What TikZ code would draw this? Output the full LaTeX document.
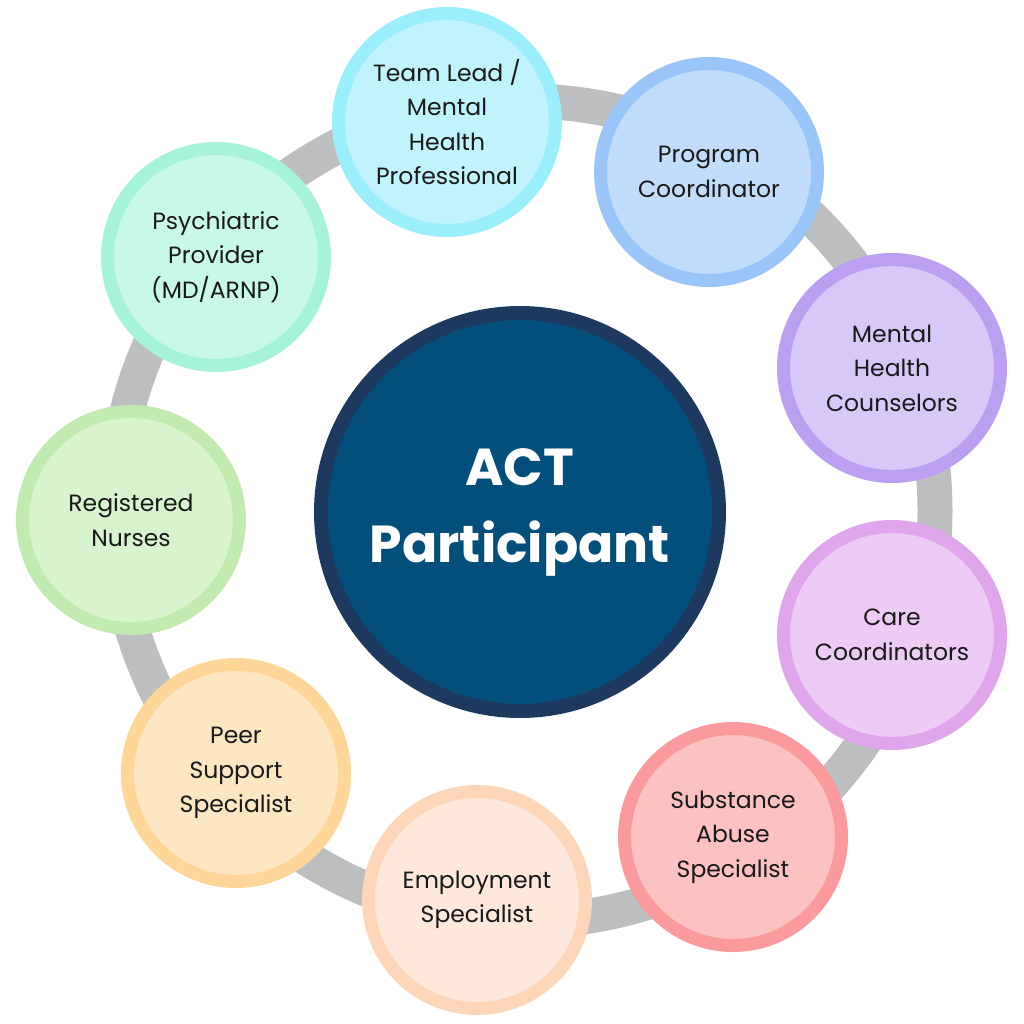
\documentclass[tikz,border=0pt]{standalone}
\usepackage{fontspec}
\setmainfont{Poppins}
\definecolor{ringgray}{HTML}{BDBEC0}
\definecolor{ctrfill}{HTML}{024F7B}
\definecolor{ctrline}{HTML}{1D3960}
\definecolor{tlB}{HTML}{9BEEFB}\definecolor{tlF}{HTML}{C0F3FC}
\definecolor{pcB}{HTML}{99C5F9}\definecolor{pcF}{HTML}{C2DCFB}
\definecolor{mhB}{HTML}{BBA0F2}\definecolor{mhF}{HTML}{D8C8F8}
\definecolor{ccB}{HTML}{E0A6EC}\definecolor{ccF}{HTML}{ECCBF4}
\definecolor{saB}{HTML}{FB9A9C}\definecolor{saF}{HTML}{FCC1C1}
\definecolor{emB}{HTML}{FDD5B9}\definecolor{emF}{HTML}{FDE8DB}
\definecolor{psB}{HTML}{FDD698}\definecolor{psF}{HTML}{FDE7C2}
\definecolor{rnB}{HTML}{C1EBB0}\definecolor{rnF}{HTML}{D8F4CE}
\definecolor{ppB}{HTML}{A5F3D9}\definecolor{ppF}{HTML}{C7F8E8}
\tikzset{
  sat/.style 2 args={circle, draw=#1, fill=#2, line width=13pt, minimum size=217pt,
    inner sep=0pt, align=center, text=black!90,
    font=\fontsize{23.5}{34.5}\selectfont},
  hub/.style={circle, draw=ctrline, fill=ctrfill, line width=14pt, minimum size=398pt,
    inner sep=0pt, align=center, text=white,
    font=\fontsize{52}{77}\selectfont\bfseries},
  ringline/.style={draw=ringgray, line width=35pt}
}
\begin{document}
\begin{tikzpicture}[x=1pt,y=-1pt]
\useasboundingbox (0,0) rectangle (1024,1024);
\fill[white] (0,0) rectangle (1024,1024);
\coordinate (ringc) at (525,511);
\draw[ringline] (ringc) circle (410);
\node[hub] (act) at (520,512) {ACT\\Participant};
\node[sat={tlB}{tlF}] (tl) at (447,122) {Team Lead /\\Mental\\Health\\Professional};
\node[sat={pcB}{pcF}] (pc) at (709,172) {Program\\Coordinator};
\node[sat={mhB}{mhF}] (mh) at (892,368) {Mental\\Health\\Counselors};
\node[sat={ccB}{ccF}] (cc) at (892,635) {Care\\Coordinators};
\node[sat={saB}{saF}] (sa) at (733,837) {Substance\\Abuse\\Specialist};
\node[sat={emB}{emF}] (em) at (477,900) {Employment\\Specialist};
\node[sat={psB}{psF}] (ps) at (236,773) {Peer\\Support\\Specialist};
\node[sat={rnB}{rnF}] (rn) at (131,520) {Registered\\Nurses};
\node[sat={ppB}{ppF}] (pp) at (216,257) {Psychiatric\\Provider\\(MD/ARNP)};
\end{tikzpicture}
\end{document}
